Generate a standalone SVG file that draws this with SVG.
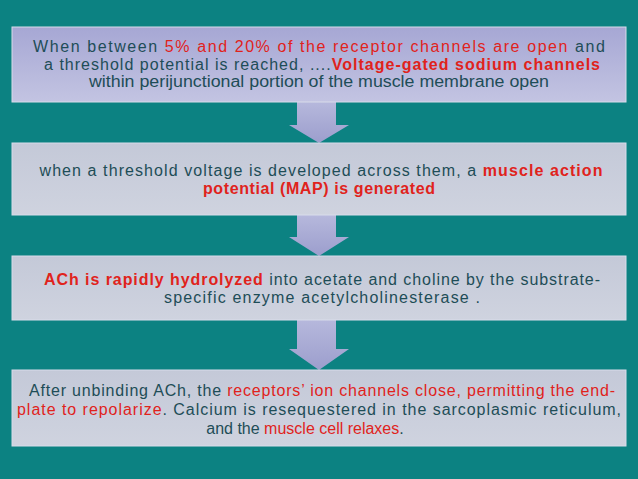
<svg xmlns="http://www.w3.org/2000/svg" width="638" height="479" viewBox="0 0 638 479">
<defs>
<linearGradient id="g1" x1="0" y1="0" x2="0" y2="1"><stop offset="0" stop-color="#a6a7d4"/><stop offset="1" stop-color="#c3c4e2"/></linearGradient>
<linearGradient id="g2" x1="0" y1="0" x2="0" y2="1"><stop offset="0" stop-color="#c4c9d8"/><stop offset="1" stop-color="#cfd3df"/></linearGradient>
<linearGradient id="ga" x1="0" y1="0" x2="0" y2="1"><stop offset="0" stop-color="#b6b8dc"/><stop offset="1" stop-color="#9c9ecd"/></linearGradient>
<style>
.t{font-family:"Liberation Sans",Arial,sans-serif;font-size:16px;fill:#1e4d57;text-anchor:middle}
.r{fill:#e0231c;font-weight:bold}
.box{stroke:#d8dcea;stroke-width:1}
</style>
</defs>
<rect width="638" height="479" fill="#0c8282"/>
<g id="connectors" fill="url(#ga)">
<polygon points="297,102 336,102 336,125 349,125 319,143 289,125 297,125"/>
<polygon points="297,215 336,215 336,237 349,237 319,256 289,237 297,237"/>
<polygon points="297,320 336,320 336,349 349,349 319,370 289,349 297,349"/>
</g>
<g id="n1">
<rect class="box" x="12" y="27" width="614" height="75" fill="url(#g1)"/>
<text class="t" x="319" y="52" textLength="572" lengthAdjust="spacing">When between <tspan class="r" style="font-weight:normal">5% and 20% of the receptor channels are open</tspan> and</text>
<text class="t" x="322" y="70" textLength="556" lengthAdjust="spacing">a threshold potential is reached, ....<tspan class="r">Voltage-gated sodium channels</tspan></text>
<text class="t" x="319" y="87" textLength="460" lengthAdjust="spacingAndGlyphs">within perijunctional portion of the muscle membrane open</text>
</g>
<g id="n2">
<rect class="box" x="12" y="143" width="614" height="72" fill="url(#g2)"/>
<text class="t" x="321" y="176" textLength="563" lengthAdjust="spacing">when a threshold voltage is developed across them, a <tspan class="r">muscle action</tspan></text>
<text class="t" x="319" y="194" textLength="232" lengthAdjust="spacing"><tspan class="r">potential (MAP) is generated</tspan></text>
</g>
<g id="n3">
<rect class="box" x="12" y="256" width="614" height="64" fill="url(#g2)"/>
<text class="t" x="322" y="285" textLength="556" lengthAdjust="spacing"><tspan class="r">ACh is rapidly hydrolyzed</tspan> into acetate and choline by the substrate-</text>
<text class="t" x="322" y="303" textLength="316" lengthAdjust="spacing">specific enzyme  acetylcholinesterase .</text>
</g>
<g id="n4">
<rect class="box" x="12" y="370" width="614" height="76" fill="url(#g2)"/>
<text class="t" x="322" y="396" textLength="586" lengthAdjust="spacing">After unbinding ACh, the <tspan fill="#e0231c">receptors’ ion channels close, permitting the end-</tspan></text>
<text class="t" x="319" y="415" textLength="604" lengthAdjust="spacing"><tspan fill="#e0231c">plate to repolarize</tspan>. Calcium is resequestered in the sarcoplasmic reticulum,</text>
<text class="t" x="305" y="434">and the <tspan fill="#e0231c">muscle cell relaxes</tspan>.</text>
</g>
</svg>
